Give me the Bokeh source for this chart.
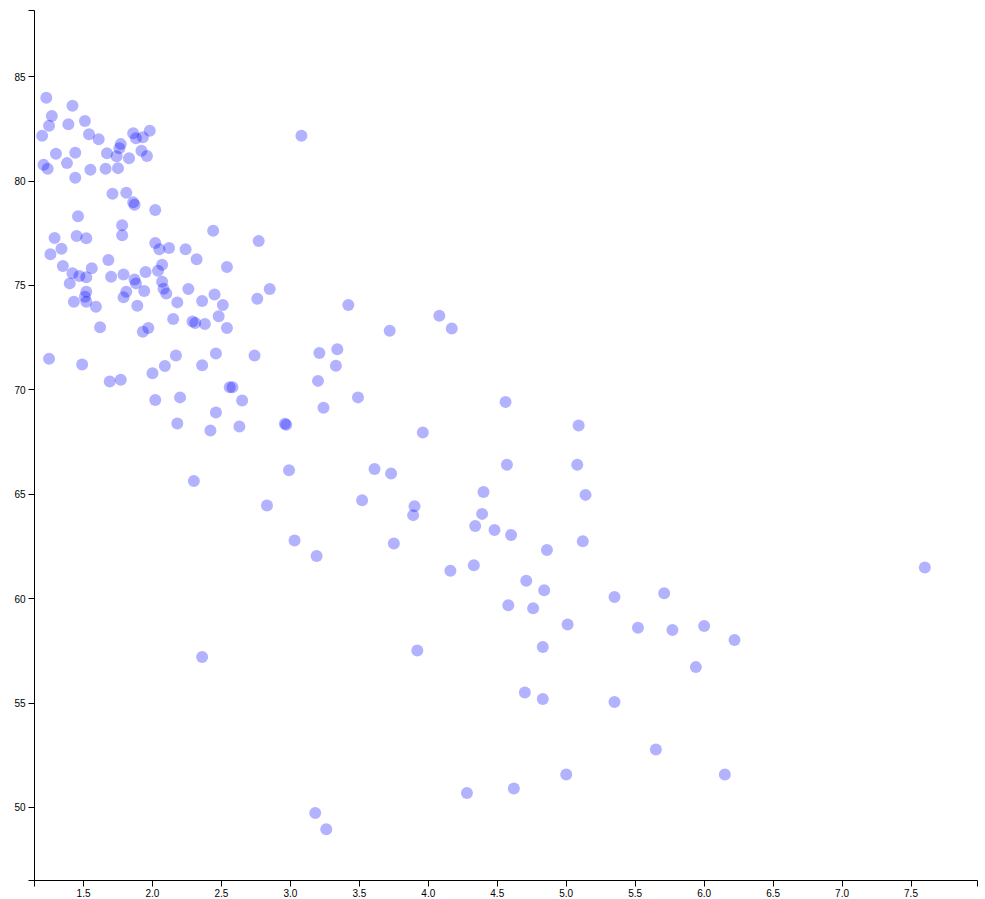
from bokeh.plotting import figure
from bokeh.models import Range1d, FixedTicker, ColumnDataSource, NumeralTickFormatter
from bokeh.embed import file_html
from bokeh.resources import INLINE

# Fertility-like x values and life-expectancy-like y values
xs = [
    1.23, 1.42, 1.27, 1.25, 1.39, 1.51, 1.20, 1.54, 1.61, 1.98,
    1.86, 1.93, 1.88, 1.77, 1.76, 1.67, 1.74, 1.83, 1.92, 1.96,
    1.30, 1.44, 1.38, 1.21, 1.24, 1.55, 1.66, 1.75, 1.44, 1.71,
    1.81, 1.86, 1.87, 2.02, 1.46, 1.78, 1.78, 1.29, 1.45, 1.52,
    2.02, 2.05, 2.12, 1.34, 1.26,
    1.35, 1.42, 1.47, 1.52, 1.56, 1.40, 1.52, 1.51, 1.52, 1.43,
    1.59, 1.62, 1.68, 1.70, 1.79, 1.87, 1.88, 1.81, 1.79, 1.94,
    1.89, 1.95, 2.04, 2.07, 2.07, 2.08, 2.10, 2.18, 2.15, 1.97,
    1.93, 1.25, 1.49, 1.69, 1.77, 2.00, 2.09, 2.17, 2.02, 2.20,
    2.18,
    2.24, 2.32, 2.44, 2.77, 2.54, 2.26, 2.36, 2.45, 2.51, 2.48,
    2.54, 2.29, 2.31, 2.38, 2.76, 2.85, 2.36, 2.46, 2.74, 3.21,
    2.56, 2.58, 2.65, 2.46, 2.42, 2.63, 2.96, 2.97, 3.20, 3.24,
    3.08, 3.42, 3.72, 4.08, 4.17, 3.34, 3.33, 3.49, 3.96, 2.99,
    3.61, 3.73, 2.30, 2.83, 3.52, 3.90, 3.89, 4.34, 3.03, 3.75,
    3.19, 4.33, 4.16, 2.36, 3.92, 3.18, 3.26,
    4.56, 5.09, 4.57, 5.08, 4.40, 5.14, 4.39, 4.48, 4.60, 4.86,
    5.12, 7.60, 4.71, 4.84, 5.35, 5.71, 4.58, 4.76, 5.01, 5.52,
    5.77, 6.00, 6.22, 4.83, 5.94, 4.70, 4.83, 5.35, 5.65, 5.00,
    6.15, 4.28, 4.62,
]
ys = [
    83.99, 83.61, 83.12, 82.65, 82.72, 82.88, 82.17, 82.24, 82.00, 82.41,
    82.29, 82.10, 82.05, 81.77, 81.57, 81.33, 81.19, 81.09, 81.45, 81.20,
    81.31, 81.36, 80.86, 80.78, 80.59, 80.54, 80.59, 80.62, 80.16, 79.39,
    79.44, 78.98, 78.87, 78.61, 78.31, 77.88, 77.40, 77.27, 77.37, 77.26,
    77.03, 76.73, 76.79, 76.76, 76.49,
    75.93, 75.58, 75.45, 75.39, 75.82, 75.10, 74.70, 74.46, 74.22, 74.22,
    73.98, 73.00, 76.22, 75.42, 75.53, 75.29, 75.10, 74.70, 74.43, 74.74,
    74.03, 75.64, 75.70, 75.99, 75.18, 74.84, 74.62, 74.19, 73.39, 72.96,
    72.78, 71.49, 71.22, 70.40, 70.48, 70.79, 71.14, 71.65, 69.51, 69.64,
    68.39,
    76.74, 76.26, 77.62, 77.13, 75.89, 74.83, 74.26, 74.57, 74.06, 73.53,
    72.96, 73.27, 73.20, 73.16, 74.36, 74.83, 71.18, 71.74, 71.65, 71.76,
    70.13, 70.13, 69.49, 68.92, 68.05, 68.25, 68.38, 68.33, 70.43, 69.14,
    82.17, 74.07, 72.83, 73.55, 72.94, 71.95, 71.15, 69.64, 67.96, 66.15,
    66.21, 65.99, 65.64, 64.46, 64.71, 64.43, 64.00, 63.48, 62.78, 62.64,
    62.04, 61.60, 61.34, 57.20, 57.52, 49.73, 48.96,
    69.42, 68.29, 66.41, 66.41, 65.11, 64.97, 64.06, 63.29, 63.05, 62.33,
    62.75, 61.49, 60.86, 60.40, 60.08, 60.26, 59.68, 59.54, 58.76, 58.61,
    58.50, 58.69, 58.02, 57.68, 56.72, 55.51, 55.19, 55.05, 52.78, 51.58,
    51.58, 50.69, 50.91,
]

x_ticks = [1.5, 2.0, 2.5, 3.0, 3.5, 4.0, 4.5, 5.0, 5.5, 6.0, 6.5, 7.0, 7.5]
y_ticks = [50, 55, 60, 65, 70, 75, 80, 85]
x_lo, x_hi = 1.1445, 7.982
y_lo, y_hi = 46.5, 88.17

source = ColumnDataSource(data=dict(x=xs, y=ys))

p = figure(
    frame_width=943, frame_height=870,
    x_range=Range1d(x_lo, x_hi), y_range=Range1d(y_lo, y_hi),
    output_backend="svg", toolbar_location=None,
    min_border_left=34, min_border_top=10, min_border_right=1, min_border_bottom=0,
)
p.outline_line_color = None
p.xgrid.visible = False
p.ygrid.visible = False

p.scatter("x", "y", source=source, size=12, fill_color="blue", fill_alpha=0.3,
          line_color=None)

p.xaxis.ticker = FixedTicker(ticks=x_ticks, minor_ticks=[x_lo, x_hi])
p.yaxis.ticker = FixedTicker(ticks=y_ticks, minor_ticks=[y_lo, y_hi])
p.xaxis.formatter = NumeralTickFormatter(format="0.0")

for ax in (p.xaxis[0], p.yaxis[0]):
    ax.axis_line_color = "black"
    ax.axis_line_width = 1
    ax.major_tick_line_color = "black"
    ax.major_tick_in = 0
    ax.major_tick_out = 6
    ax.minor_tick_line_color = "black"
    ax.minor_tick_in = 0
    ax.minor_tick_out = 6
    ax.major_label_text_font = "Liberation Sans"
    ax.major_label_text_font_size = "10px"
    ax.major_label_text_color = "black"

p.xaxis[0].major_label_standoff = 2
p.yaxis[0].major_label_standoff = 3

open("out.html", "w").write(file_html(p, INLINE))
